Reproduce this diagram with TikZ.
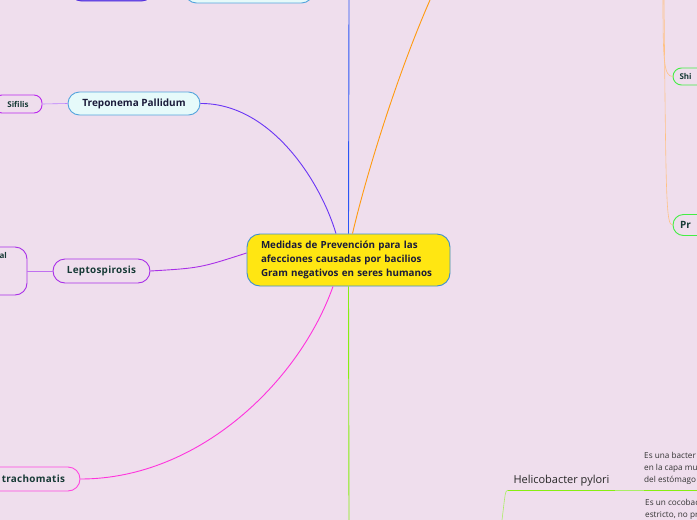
\documentclass[tikz,border=0pt]{standalone}
\usepackage{fontspec}
\setmainfont{Open Sans}
\definecolor{bg}{HTML}{EFDEED}
\definecolor{ctrfill}{HTML}{FFE612}
\definecolor{ctrline}{HTML}{3C8FD0}
\definecolor{navy}{HTML}{1B1B3A}
\definecolor{dkgreen}{HTML}{173A36}
\definecolor{cblue}{HTML}{2B55F5}
\definecolor{corange}{HTML}{FF9A10}
\definecolor{cgreen}{HTML}{88EE11}
\definecolor{cviolet}{HTML}{6A35F5}
\definecolor{cpurple}{HTML}{A92FE8}
\definecolor{cmagenta}{HTML}{FF33DD}
\definecolor{lviolet}{HTML}{BB80FF}
\definecolor{lpurple}{HTML}{C070F0}
\definecolor{cyanfill}{HTML}{E6FAFA}
\definecolor{cyanline}{HTML}{55A5DD}
\definecolor{vfill}{HTML}{7055E8}
\definecolor{vline}{HTML}{5533DD}
\definecolor{lorange}{HTML}{FFC285}
\definecolor{nodegreen}{HTML}{44EE44}
\definecolor{lgreen}{HTML}{AAEE66}
\definecolor{txtgray}{HTML}{333333}
\tikzset{
  pillbox/.style={draw, line width=0.9pt, rounded corners=11.5pt, inner sep=0pt, minimum height=23pt},
  ctrbox/.style={draw=ctrline, fill=ctrfill, line width=0.9pt, rounded corners=13pt, inner xsep=14pt, inner ysep=0pt,
    minimum width=203pt, minimum height=52pt, text width=175pt, align=left, text=navy,
    font=\fontsize{9.8}{14}\selectfont\bfseries},
  lbl/.style={inner sep=0pt, text=dkgreen, font=\fontsize{8}{10}\selectfont\bfseries},
  bigfont/.style={font=\fontsize{10}{12}\selectfont\bfseries},
  spacedfont/.style={font=\fontsize{9.9}{12}\selectfont\bfseries\addfontfeature{LetterSpace=3}},
  desc/.style={inner sep=0pt, text=txtgray, align=left, font=\fontsize{8.2}{12}\selectfont},
  conn/.style={line width=0.9pt},
  thinconn/.style={line width=0.6pt},
}
\begin{document}
\begin{tikzpicture}[x=1pt,y=-1pt]
\useasboundingbox (0,0) rectangle (697,520);
\clip (0,0) rectangle (697,520);
\fill[bg] (0,0) rectangle (697,520);

% coordinates for free ends
\coordinate (topB) at (349,0);
\coordinate (topO) at (430,0);
\coordinate (botG) at (349,520);
\coordinate (or1) at (663,0);
\coordinate (or2) at (664,0);
\coordinate (hb) at (502,520);

% nodes
\node[ctrbox] (c) at (348.5,260) {Medidas de Prevención para las\\afecciones causadas por bacilios\\Gram negativos en seres humanos};

\node[pillbox, draw=vline, fill=vfill, minimum width=83pt, minimum height=24pt] (tl1) at (111.5,-11) {};
\node[pillbox, draw=cyanline, fill=cyanfill, minimum width=128pt, minimum height=24pt] (tl2) at (249,-9) {};

\node[pillbox, draw=cyanline, fill=cyanfill, minimum width=132pt, text=navy, bigfont] (tp) at (134,103.5) {Treponema Pallidum};
\node[pillbox, draw=cpurple!80!magenta, minimum width=48pt, minimum height=18pt, rounded corners=8pt, text=dkgreen, font=\fontsize{8}{9}\selectfont\bfseries] (sf) at (18,104) {Sifilis};

\node[pillbox, draw=cpurple, minimum width=97pt, minimum height=24pt, rounded corners=12pt, text=dkgreen, spacedfont] (lp) at (101.5,271) {Leptospirosis};
\node[draw=cpurple, line width=0.9pt, rounded corners=12pt, inner sep=0pt, minimum width=90pt, minimum height=48pt] (al) at (-18,271) {};
\node[lbl, anchor=east] (alt) at (7,255) {al};

\node[pillbox, draw=cmagenta!90!white, minimum width=140pt, minimum height=24pt, rounded corners=12pt, text width=110pt, align=right, text=dkgreen, spacedfont] (tr) at (10,479) {trachomatis};

\node[pillbox, draw=nodegreen, minimum width=60pt, minimum height=17pt, rounded corners=8.5pt, text width=47pt, align=left, text=dkgreen, font=\fontsize{8}{9}\selectfont\bfseries] (shi) at (703,76.5) {Shi};
\node[pillbox, draw=nodegreen, minimum width=60pt, minimum height=21pt, rounded corners=10.5pt, text width=46pt, align=left, text=dkgreen, bigfont] (pr) at (703,225) {Pr};

\node[inner sep=0pt, minimum width=107pt, minimum height=18pt, text=black!85, font=\fontsize{11}{13}\selectfont] (hp) at (561.5,481) {Helicobacter pylori};

\node[desc, anchor=north west] (d1) at (644,452) {Es una bacter\\en la capa mu\\del estómago};
\node[desc, anchor=north west] (d2) at (645,499) {Es un cocobac\\estricto, no pr};

% connectors
\draw[conn, cblue] (c.north) -- (topB);
\draw[conn, cgreen] (c.south) -- (botG);
\draw[conn, corange] ([xshift=4pt]c.north) .. controls (365,180) and (395,80) .. (topO);
\draw[conn, cviolet] ([xshift=-12.5pt]c.north) .. controls (320,180) and (270,103) .. (tp.east);
\draw[conn, cpurple] ([yshift=7pt]c.west) .. controls (200,268) .. (lp.east);
\draw[conn, cmagenta] ([xshift=-15.5pt]c.south) .. controls (300,380) and (200,479) .. (tr.east);
\draw[thinconn, lviolet] (tp.west) -- (sf.east);
\draw[thinconn, lpurple] (lp.west) -- (al.east);
\draw[thinconn, lorange] (or1) .. controls (663,62) and (664,76) .. (shi.west);
\draw[thinconn, lorange] (or2) .. controls (666,200) and (666,225) .. (pr.west);
\draw[thinconn, lgreen] (hb) .. controls (505,496) and (505,490) .. (hp.south west);
\draw[line width=1.3pt, cgreen] (hp.south west) -- (hp.south east);
\draw[thinconn, lgreen] (hp.south east) -- (d1.south west |- hp.south east);
\draw[line width=1.3pt, cgreen] (d1.south west |- hp.south east) -- ++(60,0);
\end{tikzpicture}
\end{document}
